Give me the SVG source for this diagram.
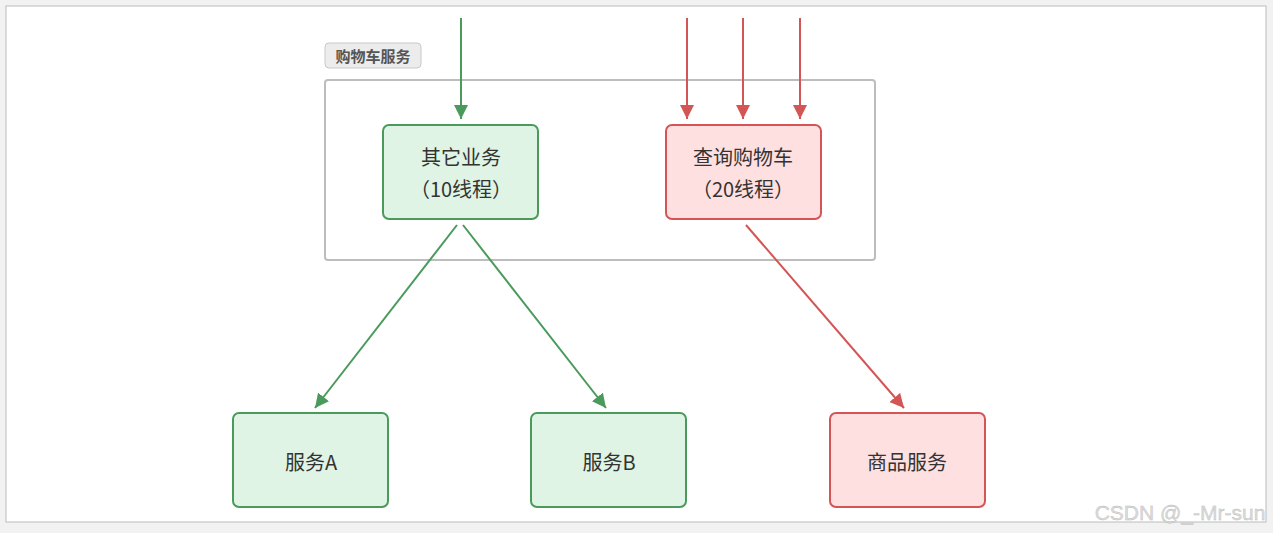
<svg xmlns="http://www.w3.org/2000/svg" width="1273" height="533" viewBox="0 0 1273 533">
<style>
text{font-family:"Noto Sans CJK SC","Noto Sans",sans-serif;fill:#333;font-size:20px;text-anchor:middle}
.g{fill:#dff4e4;stroke:#4a9a5c;stroke-width:2}
.r{fill:#ffe0e0;stroke:#d45555;stroke-width:2}
.cg{stroke:#4a9a5c;stroke-width:2;fill:none}
.cr{stroke:#d45555;stroke-width:2;fill:none}
</style>
<defs>
<marker id="ag" viewBox="0 0 10 10" refX="10" refY="5" markerWidth="7" markerHeight="7" orient="auto" markerUnits="userSpaceOnUse"><path d="M0,0L10,5L0,10z" fill="#4a9a5c"/></marker>
<marker id="ar" viewBox="0 0 10 10" refX="10" refY="5" markerWidth="7" markerHeight="7" orient="auto" markerUnits="userSpaceOnUse"><path d="M0,0L10,5L0,10z" fill="#d45555"/></marker>
<marker id="agb" viewBox="0 0 10 10" refX="10" refY="5" markerWidth="14" markerHeight="14" orient="auto" markerUnits="userSpaceOnUse"><path d="M0,0L10,5L0,10z" fill="#4a9a5c"/></marker>
<marker id="arb" viewBox="0 0 10 10" refX="10" refY="5" markerWidth="14" markerHeight="14" orient="auto" markerUnits="userSpaceOnUse"><path d="M0,0L10,5L0,10z" fill="#d45555"/></marker>
</defs>
<rect width="1273" height="533" fill="#f2f2f2"/>
<rect x="6" y="6" width="1260" height="516" fill="#fff" stroke="#bbb"/>
<g id="container">
<rect x="325" y="80" width="550" height="180" rx="3" fill="none" stroke="#bdbdbd" stroke-width="2"/>
<rect x="325" y="43" width="96" height="25" rx="4" fill="#ececec" stroke="#c8c8c8"/>
<text x="373" y="62" style="font-size:15px;font-weight:bold;fill:#555">购物车服务</text>
</g>
<g id="connectors">
<path class="cg" d="M461,18V119" marker-end="url(#agb)"/>
<path class="cr" d="M687,18V119" marker-end="url(#arb)"/>
<path class="cr" d="M743,18V119" marker-end="url(#arb)"/>
<path class="cr" d="M800,18V119" marker-end="url(#arb)"/>
<path class="cg" d="M457,225L315,408" marker-end="url(#agb)"/>
<path class="cg" d="M463,225L606,408" marker-end="url(#agb)"/>
<path class="cr" d="M746,225L904,408" marker-end="url(#arb)"/>
</g>
<g id="n1"><rect class="g" x="383" y="125" width="155" height="94" rx="6"/><text x="461" y="165">其它业务</text><text x="461" y="197">（10线程）</text></g>
<g id="n2"><rect class="r" x="666" y="125" width="155" height="94" rx="6"/><text x="743" y="165">查询购物车</text><text x="743" y="197">（20线程）</text></g>
<g id="n3"><rect class="g" x="233" y="413" width="155" height="94" rx="6"/><text x="311" y="470">服务A</text></g>
<g id="n4"><rect class="g" x="531" y="413" width="155" height="94" rx="6"/><text x="609" y="470">服务B</text></g>
<g id="n5"><rect class="r" x="830" y="413" width="155" height="94" rx="6"/><text x="907" y="470">商品服务</text></g>
<text x="1180" y="520" style="font-family:'Liberation Sans',sans-serif;font-size:21px;fill:#ddd;stroke:#bbb;stroke-width:0.4">CSDN @_-Mr-sun</text>
</svg>
